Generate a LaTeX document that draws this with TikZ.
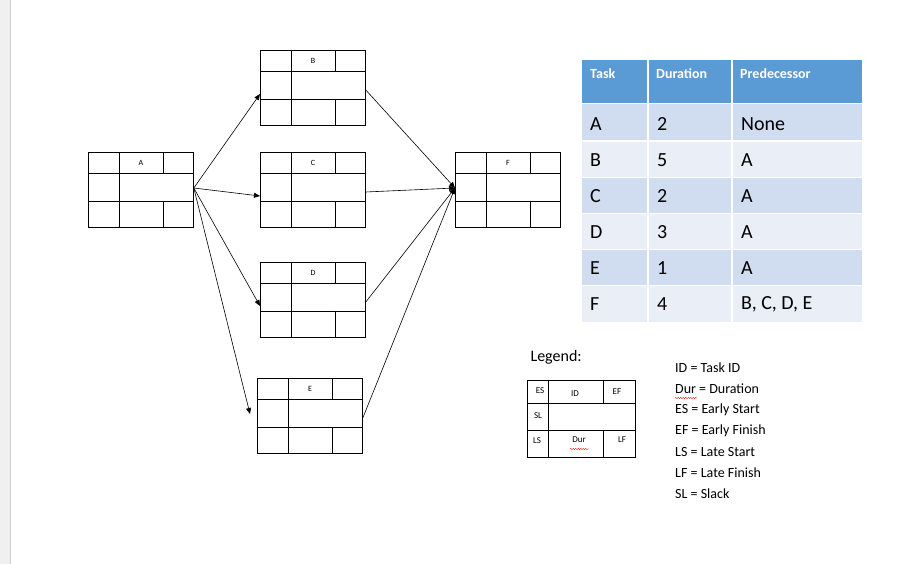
\documentclass[tikz,border=0pt]{standalone}
\usepackage{fontspec}
\setmainfont{Carlito}
\usetikzlibrary{arrows.meta,decorations.pathmorphing}
\definecolor{hdr}{HTML}{5B9BD5}
\definecolor{rowa}{HTML}{D0DCEF}
\definecolor{rowb}{HTML}{E9EEF7}
\newcommand{\pbox}[4]{% name, x, y (top-left), label
  \node[draw,line width=0.8pt,minimum width=105pt,minimum height=75pt,inner sep=0,anchor=north west] (#1) at (#2,#3) {};
  \draw[line width=0.8pt] ([yshift=-21pt]#1.north west) -- ([yshift=-21pt]#1.north east)
    ([yshift=-49pt]#1.north west) -- ([yshift=-49pt]#1.north east)
    ([xshift=31pt]#1.north west) -- ([xshift=31pt]#1.south west)
    ([xshift=75pt]#1.north west) -- ([xshift=75pt,yshift=-21pt]#1.north west)
    ([xshift=75pt,yshift=-49pt]#1.north west) -- ([xshift=75pt]#1.south west);
  \node[font=\fontsize{8}{9}\selectfont] at ([xshift=53pt,yshift=-11pt]#1.north west) {#4};
}
\begin{document}
\begin{tikzpicture}[x=1pt,y=-1pt,arr/.style={-{Triangle[length=6pt,width=5pt]},line width=0.6pt}]
\useasboundingbox (0,0) rectangle (903,564);
\fill[gray!12] (0,0) rectangle (10,564);
\draw[gray!40] (10,0) -- (10,564);
\pbox{A}{88}{152}{A}
\pbox{B}{260}{50}{B}
\pbox{C}{260}{152}{C}
\pbox{D}{260}{262}{D}
\pbox{E}{257}{378}{E}
\pbox{F}{455}{152}{F}
\coordinate (ao) at ([yshift=-36pt]A.north east);
\coordinate (fi) at ([yshift=-36pt]F.north west);
\foreach \n in {B,C,D}{\draw[arr] (ao) -- ([yshift=-44pt]\n.north west);}
\draw[arr] (ao) -- ([xshift=-7pt,yshift=-36pt]E.north west);
\foreach \n in {B,C,D,E}{\draw[arr] ([yshift=-40pt]\n.north east) -- (fi);}
% legend box
\node[draw,line width=0.8pt,minimum width=108pt,minimum height=77pt,inner sep=0,anchor=north west] (L) at (527,380) {};
\draw[line width=0.8pt] ([yshift=-23pt]L.north west) -- ([yshift=-23pt]L.north east)
  ([yshift=-50pt]L.north west) -- ([yshift=-50pt]L.north east)
  ([xshift=21pt]L.north west) -- ([xshift=21pt]L.south west)
  ([xshift=76pt]L.north west) -- ([xshift=76pt,yshift=-23pt]L.north west)
  ([xshift=76pt,yshift=-50pt]L.north west) -- ([xshift=76pt]L.south west);
\begin{scope}[every node/.style={font=\fontsize{9}{10}\selectfont}]
\node (les) at (540,391) {ES};
\node (lid) at (575,394) {ID};
\node (lef) at (617,392) {EF};
\node (lsl) at (538,416) {SL};
\node (lls) at (537,441) {LS};
\node (ldur) at (579,440) {Dur};
\node (llf) at (622,440) {LF};
\end{scope}
\draw[red,decorate,decoration={snake,amplitude=0.6pt,segment length=2.5pt}] (570,449) -- (589,449);
\node[anchor=west,font=\fontsize{16}{18}\selectfont] (lg) at (527,357) {Legend:};
\begin{scope}[every node/.style={anchor=west,font=\fontsize{14}{16}\selectfont,inner sep=0}]
\node (t1) at (675,368) {ID = Task ID};
\node (t2) at (675,389) {Dur = Duration};
\node (t3) at (675,410) {ES = Early Start};
\node (t4) at (675,431) {EF = Early Finish};
\node (t5) at (675,452) {LS = Late Start};
\node (t6) at (675,473) {LF = Late Finish};
\node (t7) at (675,494) {SL = Slack};
\end{scope}
\draw[red,decorate,decoration={snake,amplitude=0.6pt,segment length=2.5pt}] (675,398) -- (697,398);
% table
\fill[hdr] (582,60) rectangle (862,104);
\foreach \y/\c in {104/rowa,142/rowb,178/rowa,214/rowb,250/rowa,286/rowb}{
  \fill[\c] (582,\y) rectangle (862,\y+36);}
\draw[white,line width=1pt] (582,104) -- (862,104) (582,142)--(862,142) (582,178)--(862,178) (582,214)--(862,214) (582,250)--(862,250) (582,286)--(862,286);
\draw[white,line width=1.5pt] (648,60) -- (648,322) (732,60) -- (732,322);
\begin{scope}[every node/.style={anchor=west,inner sep=0}]
\node[font=\fontsize{14}{16}\selectfont\bfseries,text=white] (h1) at (590,74) {Task};
\node[font=\fontsize{14}{16}\selectfont\bfseries,text=white] (h2) at (656,74) {Duration};
\node[font=\fontsize{14}{16}\selectfont\bfseries,text=white] (h3) at (740,74) {Predecessor};
\foreach \y/\a/\b/\c in {124/A/2/None,160/B/5/A,196/C/2/A,232/D/3/A,268/E/1/A,304/F/4/{B, C, D, E}}{
  \node[font=\fontsize{20}{22}\selectfont] at (590,\y) {\a};
  \node[font=\fontsize{20}{22}\selectfont] at (657,\y) {\b};
  \node[font=\fontsize{20}{22}\selectfont] at (741,\y) {\c};}
\end{scope}
\end{tikzpicture}
\end{document}
